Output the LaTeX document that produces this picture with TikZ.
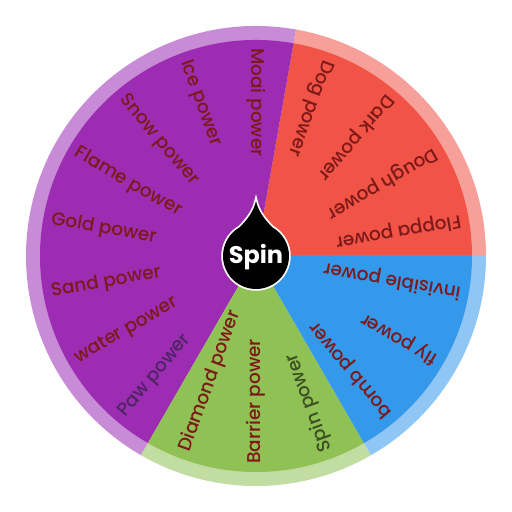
\documentclass[tikz,border=0pt]{standalone}
\usepackage{fontspec}
\setmainfont{Poppins}
\newfontfamily\lblfont{Poppins Medium}
\usepackage{tikz}
\usetikzlibrary{calc}

\definecolor{wred}{RGB}{241,83,70}
\definecolor{wblue}{RGB}{52,152,235}
\definecolor{wgreen}{RGB}{143,193,84}
\definecolor{wpurple}{RGB}{156,45,178}
\definecolor{lblred}{RGB}{125,25,25}
\definecolor{lblpurple}{RGB}{80,35,100}
\definecolor{lblgreen}{RGB}{60,80,35}

\tikzset{
  wedgelabel/.style={inner sep=0pt, anchor=west, font=\lblfont\fontsize{18.5}{18.5}\selectfont, text=lblred},
  knob/.style={fill=black, draw=white, line width=3.5pt}
}

\begin{document}
\begin{tikzpicture}[x=1pt,y=1pt]
\useasboundingbox (0,0) rectangle (512,512);
\coordinate (c) at (256,256);

% Wedges: colour / start angle / end angle
\foreach \col/\a/\b in {wred/0/80, wpurple/80/240, wgreen/240/300, wblue/300/360}{
  \fill[\col!55] (c) -- ($(c)+(\a:230)$) arc[start angle=\a, end angle=\b, radius=230] -- cycle;
  \fill[\col] (c) -- ($(c)+(\a:216)$) arc[start angle=\a, end angle=\b, radius=216] -- cycle;
}

% Labels, reading from the rim to the middle
\foreach \i/\t/\txt/\lc in {
  1/10/Floppa power/lblred, 2/30/Dough power/lblred, 3/50/Dark power/lblred,
  4/70/Dog power/lblred, 5/90/Moai power/lblred, 6/110/Ice power/lblred,
  7/130/Snow power/lblred, 8/150/Flame power/lblred, 9/170/Gold power/lblred,
  10/190/Sand power/lblred, 11/210/water power/lblred, 12/230/Paw power/lblpurple,
  13/250/Diamond power/lblred, 14/270/Barrier power/lblred, 15/290/Spin power/lblgreen,
  16/310/bomb power/lblred, 17/330/fly power/lblred, 18/350/invisible power/lblred}
  \node[wedgelabel, text=\lc, rotate=\t+180] (lbl\i) at ($(c)+(\t:208)$) {\txt};

% Spin knob
\path[knob] ($(c)+(60:33)$) .. controls ($(c)+(7,38)$) and ($(c)+(2,46)$) .. ($(c)+(0,55)$)
  .. controls ($(c)+(-2,46)$) and ($(c)+(-7,38)$) .. ($(c)+(120:33)$)
  arc[start angle=120, end angle=420, radius=33] -- cycle;
\fill[black] ($(c)+(60:33)$) .. controls ($(c)+(7,38)$) and ($(c)+(2,46)$) .. ($(c)+(0,55)$)
  .. controls ($(c)+(-2,46)$) and ($(c)+(-7,38)$) .. ($(c)+(120:33)$)
  arc[start angle=120, end angle=420, radius=33] -- cycle;
\node[text=white, font=\fontsize{24}{24}\selectfont\bfseries] (spin) at ($(c)+(0,-1)$) {Spin};
\end{tikzpicture}
\end{document}
